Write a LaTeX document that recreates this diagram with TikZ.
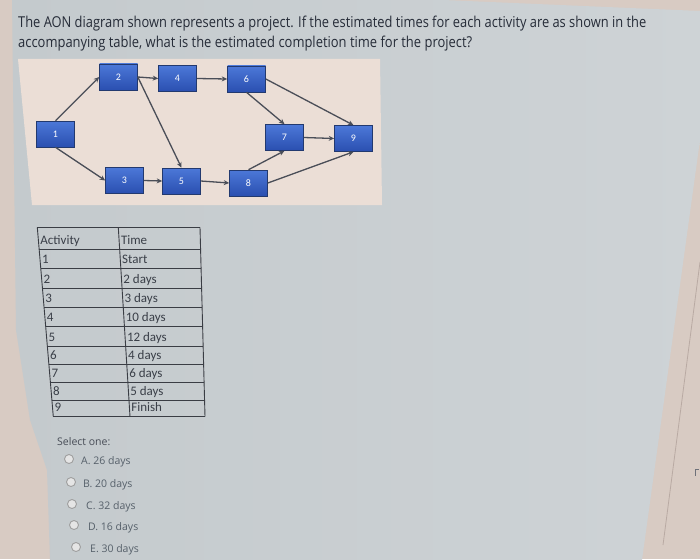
\documentclass[tikz,border=0pt]{standalone}
\usepackage{fontspec}
\usepackage{graphicx}
\setmainfont{Open Sans}
\newfontfamily\tabfont{Carlito}
\usetikzlibrary{arrows.meta,calc}
\definecolor{bezel}{HTML}{D8CBC3}
\definecolor{bezelline}{HTML}{B9AAA3}
\definecolor{screenL}{HTML}{C4CACD}
\definecolor{screenR}{HTML}{CED3D6}
\definecolor{panel}{HTML}{EBDED6}
\definecolor{nodetop}{HTML}{4C78D8}
\definecolor{nodebot}{HTML}{2A4FB0}
\definecolor{nodeborder}{HTML}{22396F}
\definecolor{linkc}{HTML}{4A4E58}
\definecolor{titlec}{HTML}{262C38}
\definecolor{tabline}{HTML}{3A3D44}
\definecolor{tabtextc}{HTML}{3A3F48}
\definecolor{optc}{HTML}{56606A}
\begin{document}
\begin{tikzpicture}[x=1pt,y=-1pt,
  actnode/.style={draw=nodeborder, line width=0.6pt, top color=nodetop, bottom color=nodebot,
    minimum width=38pt, minimum height=26pt, inner sep=0pt, text=white,
    font=\tabfont\fontsize{10}{10}\selectfont},
  link/.style={draw=linkc, line width=1.3pt, -{Stealth[length=5.5pt,width=5pt]}},
  titletext/.style={text=titlec, inner sep=0pt, font=\fontsize{15}{15}\selectfont},
  tabtext/.style={text=tabtextc, inner sep=0pt, font=\tabfont\fontsize{13}{13}\selectfont},
  tabrule/.style={draw=tabline, line width=0.9pt},
  opttext/.style={text=optc, inner sep=0pt, font=\fontsize{10.5}{10.5}\selectfont},
  radio/.style={circle, draw=gray!75, line width=0.9pt, fill=white!80!gray, minimum size=9pt, inner sep=0pt}
]
\useasboundingbox (0,0) rectangle (700,559);
% photo background: bezel and screen
\fill[bezel] (0,0) rectangle (700,559);
\shade[left color=screenL, right color=screenR]
  (12,-1) -- (420,-1) -- (700,11) -- (700,140) -- (642,560) -- (50,560) -- (47,470) -- (30,420) -- (16,330) -- cycle;
\draw[bezelline, line width=0.8pt] (700,262) -- (663,545);
\draw[linkc!80, line width=0.6pt] (695,469) -- (699,469) (695,469) -- (695,476);
% diagram panel
\fill[panel] (18,59) -- (380,59) -- (382,205) -- (32,205) -- cycle;
% title
\node[titletext, anchor=base west] (t1) at (18,28)
  {\resizebox{628pt}{\height}{The AON diagram shown represents a project. If the estimated times for each activity are as shown in the}};
\node[titletext, anchor=base west] (t2) at (18,48)
  {\resizebox{454pt}{\height}{accompanying table, what is the estimated completion time for the project?}};
% nodes
\node[actnode] (n1) at (55.5,134) {1};
\node[actnode] (n2) at (118.5,77) {2};
\node[actnode] (n4) at (177.5,78.5) {4};
\node[actnode] (n6) at (246.5,79) {6};
\node[actnode] (n7) at (284.5,137.5) {7};
\node[actnode] (n9) at (353.5,138.5) {9};
\node[actnode] (n3) at (124.5,180.5) {3};
\node[actnode] (n5) at (181.5,181) {5};
\node[actnode] (n8) at (248.5,183) {8};
% connectors
\draw[link] (n1.north) -- (n2.west);
\draw[link] (n1.south) -- (n3.west);
\draw[link] (n2.east) -- (n4.west);
\draw[link] (n2.east) -- (n5.north);
\draw[link] (n4.east) -- (n6.west);
\draw[link] (n3.east) -- (n5.west);
\draw[link] (n5.east) -- (n8.west);
\draw[link] (n6.south) -- (n7.north);
\draw[link] (n6.east) -- (n9.north);
\draw[link] (n7.east) -- (n9.west);
\draw[link] (n8.north) -- (n7.south);
\draw[link] (n8.east) -- (n9.south);
% table
\coordinate (L0) at (37.3,227.3); \coordinate (L1) at (53.3,416.7);
\coordinate (D0) at (118.3,227.3); \coordinate (D1) at (130,416.7);
\coordinate (R0) at (200,227.3); \coordinate (R1) at (205,416.7);
\draw[tabrule] (L0) -- (L1) (D0) -- (D1) (R0) -- (R1);
\foreach \ry in {227.3,249.3,268.3,288.3,307.3,326.7,346,364.3,382.3,400,416.7} {
  \pgfmathsetmacro{\tq}{(\ry-227.3)/189.4}
  \draw[tabrule] ($(L0)!\tq!(L1)$) -- ($(R0)!\tq!(R1)$);
}
\foreach \ry/\ca/\cb [count=\k] in {249.3/Activity/Time, 268.3/1/Start, 288.3/2/2 days, 307.3/3/3 days,
    326.7/4/10 days, 346/5/12 days, 364.3/6/4 days, 382.3/7/6 days, 400/8/5 days, 416.7/9/Finish} {
  \pgfmathsetmacro{\tq}{(\ry-5-227.3)/189.4}
  \node[tabtext, anchor=base west] (ta\k) at ($(L0)!\tq!(L1) + (1.5,0)$) {\ca};
  \node[tabtext, anchor=base west] (tb\k) at ($(D0)!\tq!(D1) + (1.5,0)$) {\cb};
}
% answers
\node[opttext, anchor=base west, text=titlec!85] (sel) at (57,445) {Select one:};
\node[radio] (r1) at (69,459) {};
\node[radio] (r2) at (71,482) {};
\node[radio] (r3) at (72,504) {};
\node[radio] (r4) at (74,525) {};
\node[radio] (r5) at (76,547) {};
\node[opttext, anchor=base west] (o1) at (81,464) {A. 26 days};
\node[opttext, anchor=base west] (o2) at (83,487) {B. 20 days};
\node[opttext, anchor=base west] (o3) at (86,509) {C. 32 days};
\node[opttext, anchor=base west] (o4) at (88,530) {D. 16 days};
\node[opttext, anchor=base west] (o5) at (90,552) {E. 30 days};
\end{tikzpicture}
\end{document}
